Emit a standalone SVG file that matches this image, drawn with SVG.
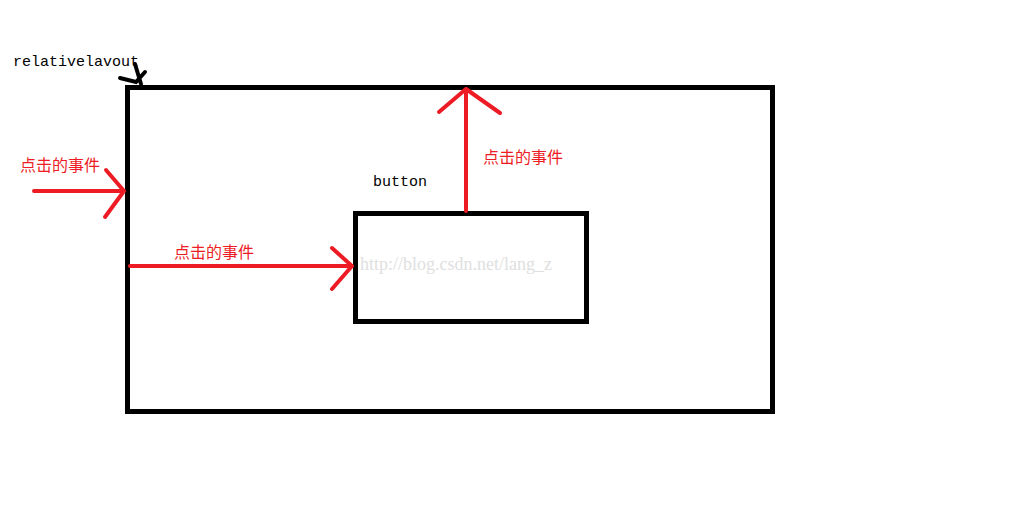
<svg xmlns="http://www.w3.org/2000/svg" width="1009" height="505" viewBox="0 0 1009 505">
<style>
.box{fill:none;stroke:#000;stroke-width:5}
.r{fill:none;stroke:#ed1c24;stroke-width:4;stroke-linecap:round;stroke-linejoin:round}
.rt{font-family:"Noto Sans CJK SC",sans-serif;font-size:16px;fill:#ed1c24}
.bt{font-family:"Liberation Mono",monospace;font-size:15px;fill:#000}
</style>
<rect width="1009" height="505" fill="#fff"/>
<g id="relativelayout"><rect class="box" x="127.5" y="87.5" width="645" height="324"/>
<text class="bt" x="13" y="66">relativelavout</text></g>
<g id="button"><rect class="box" x="355.5" y="213.5" width="231" height="108"/>
<text class="bt" x="373" y="186">button</text></g>
<text x="360" y="270" font-family="Liberation Serif,serif" font-size="18" fill="#e0e0e0">http://blog.csdn.net/lang_z</text>
<g id="connectors">
<path d="M135 64 L141 84 M120 78 L136 82 L145 72" fill="none" stroke="#000" stroke-width="4" stroke-linecap="round"/>
<path class="r" d="M34 191 H124 M106 170 L124 191 L105 217"/>
<path class="r" d="M130 266 H352 M332 248 L352 266 L332 289"/>
<path class="r" d="M466 211 V89 M439 112 L466 89 L500 113"/>
</g>
<text class="rt" x="20" y="171">点击的事件</text>
<text class="rt" x="174" y="258">点击的事件</text>
<text class="rt" x="483" y="163">点击的事件</text>
</svg>
